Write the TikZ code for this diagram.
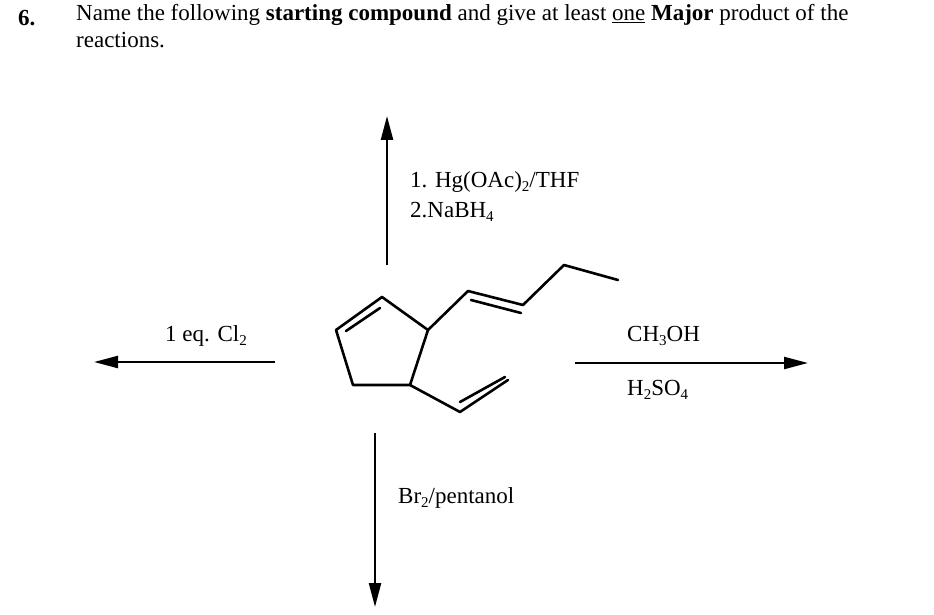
\documentclass[tikz,border=0pt]{standalone}
\usepackage{fontspec}
\setmainfont{Liberation Serif}
\usetikzlibrary{arrows.meta}
\newcommand{\sbs}[1]{\raisebox{-0.35ex}{\fontsize{15}{15}\selectfont #1}}
\begin{document}
\begin{tikzpicture}[x=1pt,y=-1pt,
  bond/.style={line width=2.6pt,line cap=round,line join=round},
  rxn/.style={line width=2.4pt,-{Triangle[length=24pt,width=12pt]}},
  lbl/.style={font=\fontsize{23}{26}\selectfont,inner sep=0,anchor=west}]
\useasboundingbox (0,0) rectangle (934,615);
\node[lbl,font=\fontsize{23}{27}\selectfont\bfseries] (num) at (18,18) {6.};
\node[lbl,font=\fontsize{23}{27}\selectfont,align=left,anchor=north west] (q) at (76,4)
 {Name the following \textbf{starting compound} and give at least \underline{one} \textbf{Major} product of the\\ reactions.};
% ring
\coordinate (a) at (382,297); \coordinate (b) at (336,330); \coordinate (c) at (353,385);
\coordinate (d) at (410,385); \coordinate (e) at (428,330);
\draw[bond] (a)--(b)--(c)--(d)--(e)--cycle;
\draw[bond] (346,331) -- (380,308);
\coordinate (f) at (468,291); \coordinate (g) at (523,305); \coordinate (h) at (564,265); \coordinate (i) at (618,280);
\draw[bond] (e)--(f)--(g)--(h)--(i);
\draw[bond] (471,300)--(521,313);
\coordinate (j) at (460,412); \coordinate (k) at (508,380);
\draw[bond] (d)--(j)--(k);
\draw[bond] (460,402)--(505,377);
% arrows
\coordinate (u0) at (387,265); \coordinate (u1) at (387,116);
\draw[rxn] (u0)--(u1);
\coordinate (l0) at (275,362); \coordinate (l1) at (94,362);
\draw[rxn] (l0)--(l1);
\coordinate (r0) at (575,363); \coordinate (r1) at (808,363);
\draw[rxn] (r0)--(r1);
\coordinate (d0) at (375,433); \coordinate (d1) at (375,607);
\draw[rxn] (d0)--(d1);
\node[lbl] (t1) at (410,182) {1. Hg(OAc)\sbs{2}/THF};
\node[lbl] (t2) at (410,212) {2.NaBH\sbs{4}};
\node[lbl] (t3) at (165,336) {1 eq. Cl\sbs{2}};
\node[lbl] (t4) at (627,336) {CH\sbs{3}OH};
\node[lbl] (t5) at (627,390) {H\sbs{2}SO\sbs{4}};
\node[lbl] (t6) at (398,498) {Br\sbs{2}/pentanol};
\end{tikzpicture}
\end{document}
